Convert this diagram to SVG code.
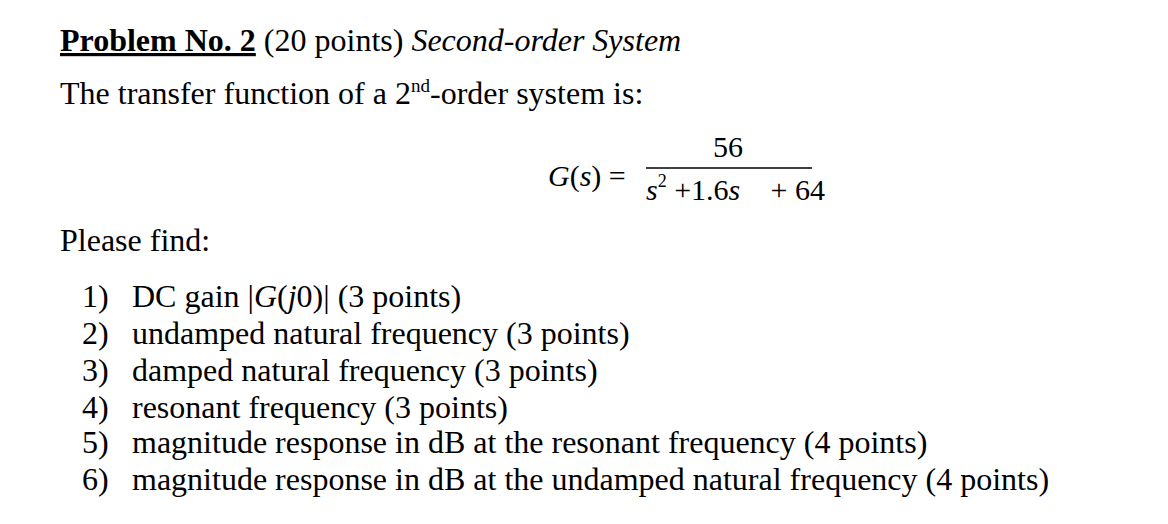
<svg xmlns="http://www.w3.org/2000/svg" width="1168" height="524" viewBox="0 0 1168 524">
<style>
text{font-family:"Liberation Serif","Times New Roman",serif;font-size:32px;fill:#000}
.f{font-size:30px}
</style>
<rect width="1168" height="524" fill="#fff"/>
<text x="60" y="51"><tspan font-weight="bold" text-decoration="underline">Problem No. 2</tspan> (20 points) <tspan font-style="italic">Second-order System</tspan></text>
<text x="60" y="104">The transfer function of a 2<tspan font-size="19" dy="-12">nd</tspan><tspan dy="12">-order system is:</tspan></text>
<text class="f" x="548" y="186"><tspan font-style="italic">G</tspan>(<tspan font-style="italic">s</tspan>) =</text>
<text class="f" x="713" y="157">56</text>
<line x1="646" y1="168" x2="812" y2="168" stroke="#000" stroke-width="1.3"/>
<text class="f" x="646" y="200"><tspan font-style="italic">s</tspan><tspan font-size="18" dy="-13">2</tspan><tspan dy="13"> +1.6</tspan><tspan font-style="italic">s</tspan><tspan x="763"> + 64</tspan></text>
<text x="60" y="251">Please find:</text>
<text x="82" y="307">1)<tspan x="132">DC gain |<tspan font-style="italic">G</tspan>(<tspan font-style="italic">j</tspan>0)| (3 points)</tspan></text>
<text x="82" y="344">2)<tspan x="132">undamped natural frequency (3 points)</tspan></text>
<text x="82" y="381">3)<tspan x="132">damped natural frequency (3 points)</tspan></text>
<text x="82" y="418">4)<tspan x="132">resonant frequency (3 points)</tspan></text>
<text x="82" y="453">5)<tspan x="132">magnitude response in dB at the resonant frequency (4 points)</tspan></text>
<text x="82" y="490">6)<tspan x="132">magnitude response in dB at the undamped natural frequency (4 points)</tspan></text>
</svg>
